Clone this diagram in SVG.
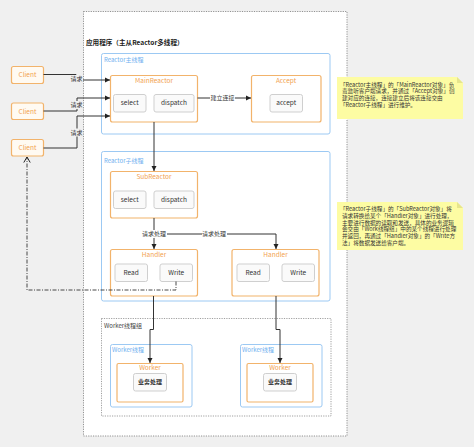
<svg xmlns="http://www.w3.org/2000/svg" width="474" height="447" viewBox="0 0 474 447">
<style>
text{font-family:"Noto Sans CJK SC","Noto Sans",sans-serif;}
.bg{fill:#f0f0f0;}
.outer{fill:#ffffff;stroke:#777;stroke-width:0.8;stroke-dasharray:1.2,1.2;}
.grp{fill:#fff;stroke:#888;stroke-width:0.8;stroke-dasharray:1.2,1.2;}
.blue{fill:#fff;stroke:#9cc9f3;stroke-width:1;}
.org{fill:#fff;stroke:#f2b36b;stroke-width:1.2;}
.cli{fill:#fffaf2;stroke:#f2b36b;stroke-width:1.2;}
.inner{fill:#fafafa;stroke:#cfcfcf;stroke-width:1;}
.note{fill:#fdfca3;}
.fold{fill:#e6e58c;}
.tb{fill:#6fb0ef;font-size:6px;}
.to{fill:#f2a250;font-size:6.5px;text-anchor:middle;}
.ti{fill:#333;font-size:6.5px;text-anchor:middle;}
.tg{fill:#444;font-size:6px;}
.tn{fill:#333;font-size:5.6px;}
.lbl{fill:#333;font-size:6px;text-anchor:middle;}
.ln{fill:none;stroke:#333;stroke-width:1;}
.dd{fill:none;stroke:#333;stroke-width:0.9;stroke-dasharray:4,1.5,1,1.5;}
</style>
<defs>
<marker id="ar" markerWidth="6" markerHeight="6" refX="5" refY="3" orient="auto" markerUnits="userSpaceOnUse">
<path d="M0,0.5 L5,3 L0,5.5 Z" fill="#222"/>
</marker>
<marker id="op" markerWidth="8" markerHeight="8" refX="6" refY="4" orient="auto" markerUnits="userSpaceOnUse">
<path d="M0.5,0.8 L6,4 L0.5,7.2" fill="none" stroke="#222" stroke-width="1"/>
</marker>
</defs>
<rect class="bg" x="0" y="0" width="474" height="447"/>
<rect class="outer" x="83.5" y="11.5" width="263.5" height="424.5"/>
<text x="86" y="45" style="font-size:6.6px;font-weight:bold;fill:#222">应用程序（主从Reactor多线程）</text>

<g id="reactor-main-thread">
<rect class="blue" x="101.5" y="53.5" width="228.5" height="80.5" rx="2"/>
<text class="tb" x="104" y="62">Reactor主线程</text>
</g>
<g id="reactor-sub-thread">
<rect class="blue" x="101.5" y="151.5" width="228.5" height="149.5" rx="2"/>
<text class="tb" x="104" y="163">Reactor子线程</text>
</g>
<g id="worker-group">
<rect class="grp" x="101.5" y="318.5" width="229.5" height="97.5"/>
<text class="tg" x="104" y="328">Worker线程组</text>
</g>
<g id="worker-thread-1">
<rect class="blue" x="110.5" y="344.5" width="81.5" height="62.5" rx="2"/>
<text class="tb" x="112" y="352">Worker线程</text>
</g>
<g id="worker-thread-2">
<rect class="blue" x="240.5" y="344.5" width="81.5" height="62.5" rx="2"/>
<text class="tb" x="242" y="352">Worker线程</text>
</g>

<g id="client-1">
<rect class="cli" x="11.5" y="66.5" width="32" height="17" rx="2"/>
<text class="to" x="27.5" y="77.3">Client</text>
</g>
<g id="client-2">
<rect class="cli" x="11.5" y="103" width="32" height="16.5" rx="2"/>
<text class="to" x="27.5" y="113.5">Client</text>
</g>
<g id="client-3">
<rect class="cli" x="11.5" y="139.5" width="32" height="16.5" rx="2"/>
<text class="to" x="27.5" y="150">Client</text>
</g>

<g id="main-reactor">
<rect class="org" x="110.5" y="75.5" width="87" height="46.5" rx="2"/>
<text class="to" x="154" y="82.5">MainReactor</text>
<rect class="inner" x="113.5" y="94.5" width="32.5" height="17.5" rx="2"/>
<text class="ti" x="129.7" y="105.3">select</text>
<rect class="inner" x="154" y="94.5" width="40" height="17.5" rx="2"/>
<text class="ti" x="174" y="105.3">dispatch</text>
</g>
<g id="accept">
<rect class="org" x="251.5" y="75.5" width="69.5" height="46.5" rx="2"/>
<text class="to" x="286" y="82.5">Accept</text>
<rect class="inner" x="270" y="94.5" width="32.5" height="17.5" rx="2"/>
<text class="ti" x="286.2" y="105.3">accept</text>
</g>
<g id="sub-reactor">
<rect class="org" x="110.5" y="171.5" width="87" height="46.5" rx="2"/>
<text class="to" x="154" y="178.5">SubReactor</text>
<rect class="inner" x="113.5" y="191" width="32.5" height="17.5" rx="2"/>
<text class="ti" x="129.7" y="201.8">select</text>
<rect class="inner" x="154" y="191" width="40" height="17.5" rx="2"/>
<text class="ti" x="174" y="201.8">dispatch</text>
</g>
<g id="handler-1">
<rect class="org" x="110.5" y="249.5" width="87" height="46.5" rx="2"/>
<text class="to" x="154" y="256.5">Handler</text>
<rect class="inner" x="115" y="264" width="32.5" height="17.5" rx="2"/>
<text class="ti" x="131.2" y="274.8">Read</text>
<rect class="inner" x="160" y="264" width="32.5" height="17.5" rx="2"/>
<text class="ti" x="176.2" y="274.8">Write</text>
</g>
<g id="handler-2">
<rect class="org" x="232" y="249.5" width="87" height="46.5" rx="2"/>
<text class="to" x="275.5" y="256.5">Handler</text>
<rect class="inner" x="237" y="264" width="32.5" height="17.5" rx="2"/>
<text class="ti" x="253.2" y="274.8">Read</text>
<rect class="inner" x="282" y="264" width="32.5" height="17.5" rx="2"/>
<text class="ti" x="298.2" y="274.8">Write</text>
</g>
<g id="worker-1">
<rect class="org" x="117" y="363.5" width="66" height="38.5" rx="1.5"/>
<text class="to" x="150" y="370">Worker</text>
<rect class="inner" x="133.5" y="373.5" width="33" height="17.5" rx="2"/>
<text class="ti" x="150" y="384.3" style="font-weight:bold;font-size:6px">业务处理</text>
</g>
<g id="worker-2">
<rect class="org" x="247" y="363.5" width="66" height="38.5" rx="1.5"/>
<text class="to" x="280" y="370">Worker</text>
<rect class="inner" x="263.5" y="373.5" width="33" height="17.5" rx="2"/>
<text class="ti" x="280" y="384.3" style="font-weight:bold;font-size:6px">业务处理</text>
</g>

<g id="note-1">
<path class="note" d="M337,77 H457 L463,83 V119 H337 Z"/>
<path class="fold" d="M457,77 L463,83 H457 Z"/>
<text class="tn" x="340" y="86.5">「Reactor主线程」的「MainReactor对象」负</text>
<text class="tn" x="342" y="93.3">责监听客户端请求，并通过「Accept对象」创</text>
<text class="tn" x="342" y="100.1">建对应的连接，连接建立后将该连接交由</text>
<text class="tn" x="340" y="106.9">「Reactor子线程」进行维护。</text>
</g>
<g id="note-2">
<path class="note" d="M337,202 H457 L463,208 V250 H337 Z"/>
<path class="fold" d="M457,202 L463,208 H457 Z"/>
<text class="tn" x="340" y="211">「Reactor子线程」的「SubReactor对象」将</text>
<text class="tn" x="342" y="217.8">请求转换给某个「Handler对象」进行处理，</text>
<text class="tn" x="342" y="224.6">主要进行数据的读取和发送，具体的业务逻辑</text>
<text class="tn" x="342" y="231.4">会交由「Work线程组」中的某个线程进行处理</text>
<text class="tn" x="342" y="238.2">并返回，再通过「Handler对象」的「Write方</text>
<text class="tn" x="342" y="245">法」将数据发送给客户端。</text>
</g>

<g id="connectors">
<path class="ln" d="M43.5,74.5 H76 V80 H110" marker-end="url(#ar)"/>
<path class="ln" d="M43.5,111 H77 V98 H110" marker-end="url(#ar)"/>
<path class="ln" d="M43.5,148 H77 V116 H110" marker-end="url(#ar)"/>
<path class="ln" d="M197.5,98 H251" marker-end="url(#ar)"/>
<path class="ln" d="M154,122 V171" marker-end="url(#ar)"/>
<path class="ln" d="M154,218 V249" marker-end="url(#ar)"/>
<path class="ln" d="M154,234 H276 V249" marker-end="url(#ar)"/>
<path class="ln" d="M153.5,296 V329.5 H150 V363" marker-end="url(#ar)"/>
<path class="ln" d="M276,296 V329.5 H280 V363" marker-end="url(#ar)"/>
<path class="dd" d="M176,281.5 V290 H27 V157" marker-end="url(#op)"/>
<rect x="70" y="75" width="13" height="8" fill="#f0f0f0"/>
<text class="lbl" x="76.5" y="81">请求</text>
<rect x="70" y="101" width="13" height="8" fill="#f0f0f0"/>
<text class="lbl" x="76.5" y="107">请求</text>
<rect x="70" y="128.5" width="13" height="8" fill="#f0f0f0"/>
<text class="lbl" x="76.5" y="134.5">请求</text>
<rect x="210" y="94" width="25" height="8" fill="#fff"/>
<text class="lbl" x="222.5" y="100.2">建立连接</text>
<rect x="142" y="230" width="25" height="8" fill="#fff"/>
<text class="lbl" x="154" y="236.2">请求处理</text>
<rect x="202" y="230" width="25" height="8" fill="#fff"/>
<text class="lbl" x="214" y="236.2">请求处理</text>
</g>
</svg>
